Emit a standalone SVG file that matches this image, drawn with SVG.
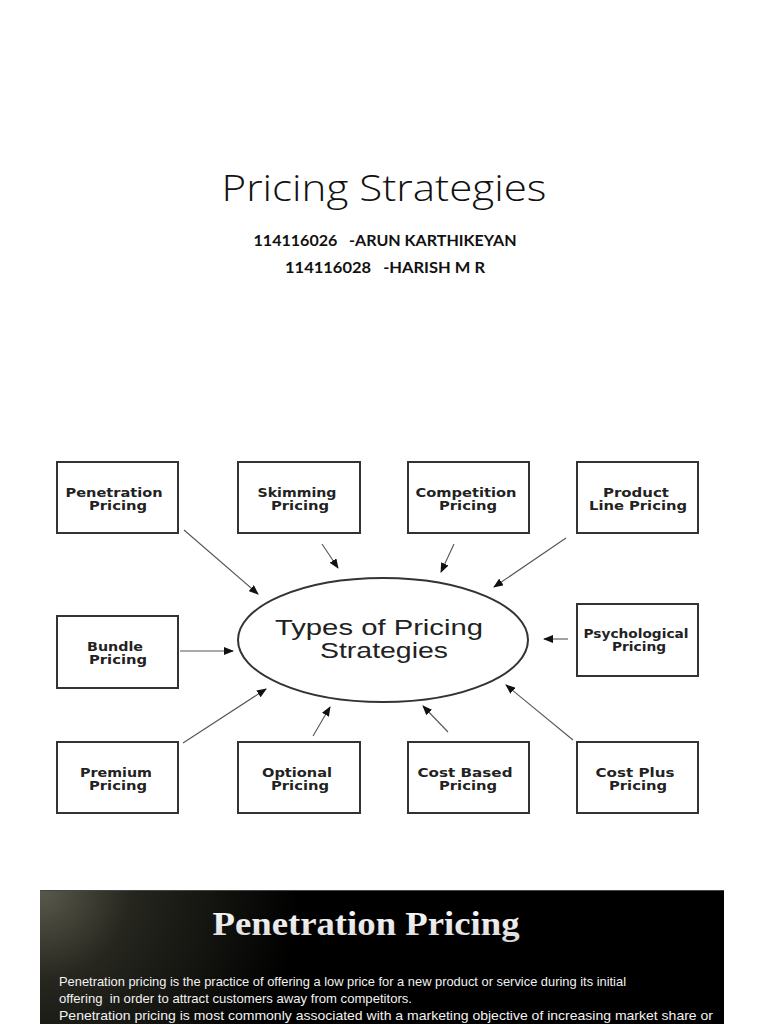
<svg xmlns="http://www.w3.org/2000/svg" width="768" height="1024" viewBox="0 0 768 1024">
<defs>
<style>
.box rect{fill:#fff;stroke:#333;stroke-width:2}
.box text{font-family:"DejaVu Sans",Verdana,sans-serif;font-weight:bold;font-size:12.5px;fill:#222;text-anchor:middle}
.conn line{stroke:#555;stroke-width:1.1;marker-end:url(#ah)}
.title{font-family:"Open Sans","Liberation Sans",sans-serif;font-weight:300;font-size:36px;fill:#111;text-anchor:middle}
.sub{font-family:Lato,"Liberation Sans",sans-serif;font-weight:bold;font-size:16px;fill:#111;text-anchor:middle}
.ell{font-family:"Liberation Sans",Arial,sans-serif;font-size:22px;fill:#222;text-anchor:middle}
.body{font-family:"Liberation Sans",Arial,sans-serif;font-size:13.5px;fill:#f2f2f2}
</style>
<marker id="ah" markerUnits="userSpaceOnUse" markerWidth="10" markerHeight="8" refX="9" refY="4" orient="auto">
<path d="M0,0 L10,4 L0,8 Z" fill="#111"/>
</marker>
<radialGradient id="glare" cx="40" cy="890" r="260" gradientUnits="userSpaceOnUse">
<stop offset="0" stop-color="#5a5a4c"/>
<stop offset="0.35" stop-color="#26261f"/>
<stop offset="1" stop-color="#000"/>
</radialGradient>
<linearGradient id="head" x1="0" y1="0" x2="0" y2="1">
<stop offset="0" stop-color="#ffffff"/>
<stop offset="1" stop-color="#d8d8d8"/>
</linearGradient>
</defs>
<rect width="768" height="1024" fill="#fff"/>

<text class="title" x="384" y="201" textLength="325" lengthAdjust="spacingAndGlyphs">Pricing Strategies</text>
<text class="sub" x="385" y="246" textLength="263" lengthAdjust="spacingAndGlyphs" xml:space="preserve">114116026   -ARUN KARTHIKEYAN</text>
<text class="sub" x="385" y="273" textLength="200" lengthAdjust="spacingAndGlyphs" xml:space="preserve">114116028   -HARISH M R</text>

<g id="center">
<ellipse cx="383" cy="640" rx="145" ry="62" fill="#fff" stroke="#333" stroke-width="2"/>
<text class="ell" x="379" y="635" textLength="208" lengthAdjust="spacingAndGlyphs">Types of Pricing</text>
<text class="ell" x="384" y="658" textLength="128" lengthAdjust="spacingAndGlyphs">Strategies</text>
</g>

<g id="penetration" class="box"><rect x="57" y="462" width="121" height="71"/>
<text x="114" y="497" textLength="97" lengthAdjust="spacingAndGlyphs">Penetration</text><text x="118" y="510" textLength="58" lengthAdjust="spacingAndGlyphs">Pricing</text></g>
<g id="skimming" class="box"><rect x="238" y="462" width="122" height="71"/>
<text x="297" y="497" textLength="79" lengthAdjust="spacingAndGlyphs">Skimming</text><text x="300" y="510" textLength="58" lengthAdjust="spacingAndGlyphs">Pricing</text></g>
<g id="competition" class="box"><rect x="408" y="462" width="121" height="71"/>
<text x="466" y="497" textLength="101" lengthAdjust="spacingAndGlyphs">Competition</text><text x="468" y="510" textLength="58" lengthAdjust="spacingAndGlyphs">Pricing</text></g>
<g id="productline" class="box"><rect x="577" y="462" width="121" height="71"/>
<text x="636" y="497" textLength="66" lengthAdjust="spacingAndGlyphs">Product</text><text x="638" y="510" textLength="98" lengthAdjust="spacingAndGlyphs">Line Pricing</text></g>

<g id="bundle" class="box"><rect x="57" y="616" width="121" height="72"/>
<text x="115" y="651" textLength="56" lengthAdjust="spacingAndGlyphs">Bundle</text><text x="118" y="664" textLength="58" lengthAdjust="spacingAndGlyphs">Pricing</text></g>
<g id="psychological" class="box"><rect x="577" y="604" width="121" height="72"/>
<text x="636" y="638" textLength="105" lengthAdjust="spacingAndGlyphs">Psychological</text><text x="639" y="651" textLength="54" lengthAdjust="spacingAndGlyphs">Pricing</text></g>

<g id="premium" class="box"><rect x="57" y="742" width="121" height="71"/>
<text x="116" y="777" textLength="72" lengthAdjust="spacingAndGlyphs">Premium</text><text x="118" y="790" textLength="58" lengthAdjust="spacingAndGlyphs">Pricing</text></g>
<g id="optional" class="box"><rect x="238" y="742" width="122" height="71"/>
<text x="297" y="777" textLength="70" lengthAdjust="spacingAndGlyphs">Optional</text><text x="300" y="790" textLength="58" lengthAdjust="spacingAndGlyphs">Pricing</text></g>
<g id="costbased" class="box"><rect x="408" y="742" width="121" height="71"/>
<text x="465" y="777" textLength="95" lengthAdjust="spacingAndGlyphs">Cost Based</text><text x="468" y="790" textLength="58" lengthAdjust="spacingAndGlyphs">Pricing</text></g>
<g id="costplus" class="box"><rect x="577" y="742" width="121" height="71"/>
<text x="635" y="777" textLength="79" lengthAdjust="spacingAndGlyphs">Cost Plus</text><text x="638" y="790" textLength="58" lengthAdjust="spacingAndGlyphs">Pricing</text></g>

<g id="connectors" class="conn">
<line x1="184" y1="530" x2="258" y2="594"/>
<line x1="322" y1="544" x2="338" y2="568"/>
<line x1="454" y1="544" x2="441" y2="572"/>
<line x1="566" y1="538" x2="494" y2="587"/>
<line x1="568" y1="639" x2="544" y2="639"/>
<line x1="180" y1="651" x2="233" y2="651"/>
<line x1="183" y1="743" x2="266" y2="689"/>
<line x1="313" y1="736" x2="330" y2="707"/>
<line x1="448" y1="732" x2="423" y2="706"/>
<line x1="573" y1="740" x2="506" y2="685"/>
</g>

<g id="panel">
<rect x="40" y="890" width="684" height="134" fill="url(#glare)"/>
<line x1="40" y1="890.5" x2="724" y2="890.5" stroke="#444" stroke-width="1"/>
<text x="366" y="935" font-family="Liberation Serif,'Times New Roman',serif" font-weight="bold" font-size="34" fill="url(#head)" text-anchor="middle" textLength="307" lengthAdjust="spacingAndGlyphs">Penetration Pricing</text>
<text class="body" x="59" y="986" textLength="567" lengthAdjust="spacingAndGlyphs">Penetration pricing is the practice of offering a low price for a new product or service during its initial</text>
<text class="body" x="59" y="1003" textLength="353" lengthAdjust="spacingAndGlyphs" xml:space="preserve">offering  in order to attract customers away from competitors.</text>
<text class="body" x="59" y="1020" textLength="654" lengthAdjust="spacingAndGlyphs">Penetration pricing is most commonly associated with a marketing objective of increasing market share or</text>
</g>
</svg>
